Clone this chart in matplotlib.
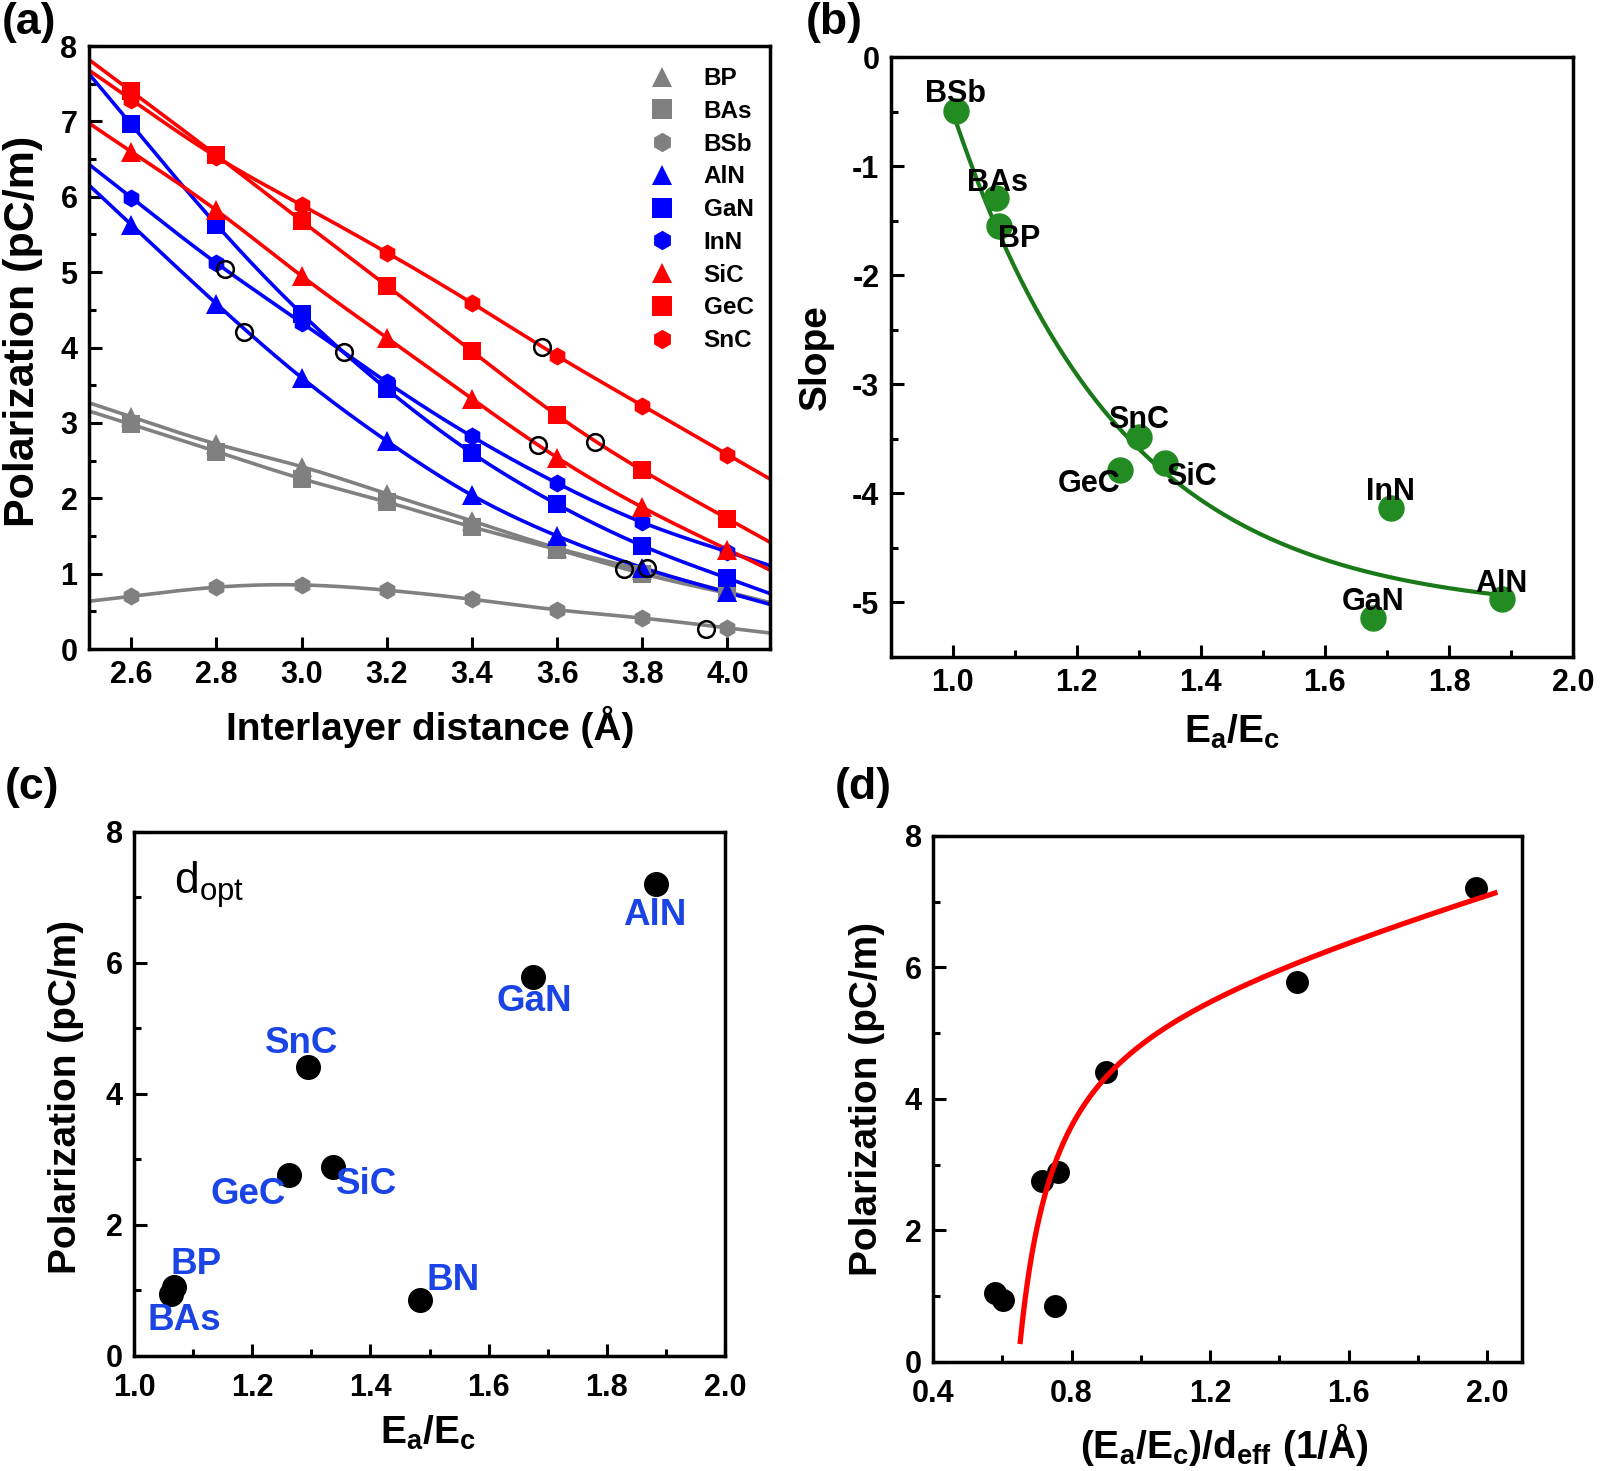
import numpy as np
import matplotlib
matplotlib.use('Agg')
import matplotlib.pyplot as plt
from matplotlib.lines import Line2D
from matplotlib.ticker import MultipleLocator

plt.rcParams['font.family'] = ['Liberation Sans', 'DejaVu Sans']
plt.rcParams['font.weight'] = 'bold'
plt.rcParams['axes.unicode_minus'] = False
plt.rcParams['mathtext.fontset'] = 'custom'
plt.rcParams['mathtext.rm'] = 'Liberation Sans:weight=normal'
plt.rcParams['mathtext.bf'] = 'Liberation Sans:weight=bold'
plt.rcParams['mathtext.it'] = 'Liberation Sans:italic'

# ---------------- data: panel (a) ----------------
d_interlayer = [2.6, 2.8, 3.0, 3.2, 3.4, 3.6, 3.8, 4.0]
P_BP = [3.08, 2.72, 2.42, 2.06, 1.70, 1.34, 1.05, 0.76]
P_BAs = [2.98, 2.62, 2.26, 1.95, 1.62, 1.32, 1.00, 0.74]
P_BSb = [0.70, 0.82, 0.85, 0.78, 0.66, 0.52, 0.41, 0.28]
P_AlN = [5.63, 4.58, 3.60, 2.76, 2.04, 1.50, 1.08, 0.75]
P_GaN = [6.96, 5.63, 4.45, 3.45, 2.60, 1.92, 1.37, 0.94]
P_InN = [5.99, 5.12, 4.33, 3.54, 2.82, 2.20, 1.68, 1.29]
P_SiC = [6.60, 5.82, 4.95, 4.13, 3.32, 2.54, 1.88, 1.32]
P_GeC = [7.40, 6.55, 5.68, 4.82, 3.95, 3.10, 2.37, 1.73]
P_SnC = [7.29, 6.53, 5.89, 5.26, 4.59, 3.89, 3.23, 2.58]
open_x = [2.82, 2.865, 3.10, 3.565, 3.555, 3.69, 3.757, 3.81, 3.95]
open_y = [5.04, 4.21, 3.94, 4.01, 2.71, 2.75, 1.06, 1.08, 0.26]

# ---------------- data: panel (b) ----------------
mat_b = ['BSb', 'BAs', 'BP', 'SnC', 'GeC', 'SiC', 'InN', 'GaN', 'AlN']
ratio_b = [1.005, 1.070, 1.074, 1.300, 1.269, 1.342, 1.706, 1.678, 1.885]
slope_b = [-0.49, -1.29, -1.55, -3.48, -3.79, -3.72, -4.13, -5.14, -4.97]
# exponential fit: y = y0 + A*exp(-(x-1)/t)
fit_b_y0, fit_b_A, fit_b_t = -5.107, 4.607, 0.27
fit_b_range = (1.0, 1.89)

# ---------------- data: panel (c)/(d) ----------------
mat_c = ['AlN', 'GaN', 'SnC', 'SiC', 'GeC', 'BP', 'BAs', 'BN']
ratio_c = [1.884, 1.675, 1.295, 1.337, 1.263, 1.068, 1.062, 1.484]
pol_opt = [7.21, 5.78, 4.41, 2.89, 2.76, 1.05, 0.94, 0.85]
ratio_over_d = [1.968, 1.451, 0.900, 0.760, 0.715, 0.578, 0.601, 0.751]
# fit: y = a + b*x - c/(x - x0)
fit_d_a, fit_d_b, fit_d_c, fit_d_x0 = 4.522, 1.468, 0.527, 0.55
fit_d_range = (0.652, 2.022)

# ---------------- styling ----------------
GRAY, BLUE, RED = '#808080', '#0000ff', '#ff0000'
LBLUE = '#1a44e6'
GREEN_PT, GREEN_LN = '#228b22', '#1a7a1a'
TICK_FS = 22
LABEL_FS = 28


def natural_spline(x, y, xs):
    x = np.asarray(x, float)
    y = np.asarray(y, float)
    n = len(x)
    h = np.diff(x)
    A = np.zeros((n, n))
    r = np.zeros(n)
    A[0, 0] = 1
    A[-1, -1] = 1
    for i in range(1, n - 1):
        A[i, i - 1] = h[i - 1]
        A[i, i] = 2 * (h[i - 1] + h[i])
        A[i, i + 1] = h[i]
        r[i] = 3 * ((y[i + 1] - y[i]) / h[i] - (y[i] - y[i - 1]) / h[i - 1])
    c = np.linalg.solve(A, r)
    b = (y[1:] - y[:-1]) / h - h * (2 * c[:-1] + c[1:]) / 3
    dd = (c[1:] - c[:-1]) / (3 * h)
    idx = np.clip(np.searchsorted(x, xs) - 1, 0, n - 2)
    dx = xs - x[idx]
    return y[idx] + b[idx] * dx + c[idx] * dx ** 2 + dd[idx] * dx ** 3


def style_axes(ax, xpad=8):
    for s in ax.spines.values():
        s.set_linewidth(2.5)
    ax.tick_params(which='major', direction='in', length=9, width=2.2,
                   labelsize=TICK_FS, pad=8, top=False, right=False)
    ax.tick_params(which='minor', direction='in', length=5, width=2.2,
                   top=False, right=False)
    ax.tick_params(axis='x', which='major', pad=xpad)
    for lab in ax.get_xticklabels() + ax.get_yticklabels():
        lab.set_fontweight('bold')


fig = plt.figure(figsize=(16, 14.71), dpi=100)

# ---------------- panel (a) ----------------
axa = fig.add_axes([0.0554, 0.5588, 0.4259, 0.4099])
series = [
    ('BP', P_BP, GRAY, '^', 14),
    ('BAs', P_BAs, GRAY, 's', 13),
    ('BSb', P_BSb, GRAY, 'h', 13),
    ('AlN', P_AlN, BLUE, '^', 14),
    ('GaN', P_GaN, BLUE, 's', 13),
    ('InN', P_InN, BLUE, 'h', 13),
    ('SiC', P_SiC, RED, '^', 14),
    ('GeC', P_GeC, RED, 's', 13),
    ('SnC', P_SnC, RED, 'h', 13),
]
xs = np.linspace(2.5, 4.1, 300)
handles = []
for name, vals, col, mk, ms in series:
    axa.plot(xs, natural_spline(d_interlayer, vals, xs), color=col, lw=2.6, zorder=2)
    axa.plot(d_interlayer, vals, linestyle='none', marker=mk, ms=ms, color=col,
             markeredgewidth=0, zorder=3)
    handles.append(Line2D([], [], linestyle='none', marker=mk, ms=ms + 1, color=col,
                          markeredgewidth=0, label=name))
axa.plot(open_x, open_y, linestyle='none', marker='o', ms=12, mfc='none',
         mec='black', mew=1.8, zorder=4)
axa.set_xlim(2.5, 4.1)
axa.set_ylim(0, 8)
axa.xaxis.set_major_locator(MultipleLocator(0.2))
axa.yaxis.set_major_locator(MultipleLocator(1))
axa.yaxis.set_minor_locator(MultipleLocator(0.5))
axa.set_xlabel('Interlayer distance (Å)', fontsize=LABEL_FS, fontweight='bold', va='center')
axa.set_ylabel('Polarization (pC/m)', fontsize=31, fontweight='bold', va='center')
axa.xaxis.set_label_coords(0.501, -0.129)
axa.yaxis.set_label_coords(-0.097, 0.526)
leg = axa.legend(handles=handles, loc='upper left', bbox_to_anchor=(0.806, 0.985),
                 frameon=False, borderpad=0, handlelength=1.0, handletextpad=1.2,
                 labelspacing=0.40, prop={'size': 17.5, 'weight': 'bold'})
style_axes(axa)

# ---------------- panel (b) ----------------
axb = fig.add_axes([0.5566, 0.5534, 0.4266, 0.4077])
xb = np.linspace(*fit_b_range, 300)
axb.plot(xb, fit_b_y0 + fit_b_A * np.exp(-(xb - 1.0) / fit_b_t), color=GREEN_LN, lw=3, zorder=2)
axb.plot(ratio_b, slope_b, linestyle='none', marker='o', ms=18, color=GREEN_PT, zorder=3)
offs_b = {'BSb': (0, 12), 'BAs': (1, 11), 'BP': (15, -9), 'SnC': (0, 12),
          'GeC': (-22, -10), 'SiC': (19, -10), 'InN': (0, 11), 'GaN': (0, 11),
          'AlN': (0, 11)}
for m, x, y in zip(mat_b, ratio_b, slope_b):
    axb.annotate(m, (x, y), xytext=offs_b[m], textcoords='offset points',
                 ha='center', va='center', fontsize=22, fontweight='bold', zorder=4)
axb.set_xlim(0.9, 2.0)
axb.set_ylim(-5.5, 0)
axb.xaxis.set_major_locator(MultipleLocator(0.2))
axb.xaxis.set_minor_locator(MultipleLocator(0.1))
axb.yaxis.set_major_locator(MultipleLocator(1))
axb.yaxis.set_minor_locator(MultipleLocator(0.5))
axb.set_xlabel(r'$\mathbf{E_a/E_c}$', fontsize=LABEL_FS, va='center')
axb.set_ylabel('Slope', fontsize=LABEL_FS, fontweight='bold', va='center')
axb.xaxis.set_label_coords(0.5, -0.125)
axb.yaxis.set_label_coords(-0.109, 0.5)
style_axes(axb)

# ---------------- panel (c) ----------------
axc = fig.add_axes([0.08375, 0.0782, 0.3694, 0.3562])
axc.plot(ratio_c, pol_opt, linestyle='none', marker='o', ms=17, color='black', zorder=3)
offs_c = {'AlN': (-1, -23), 'GaN': (1, -17), 'SnC': (-5, 17), 'SiC': (24, -13),
          'GeC': (-30, -14), 'BP': (16, 16), 'BAs': (10, -19), 'BN': (24, 14)}
for m, x, y in zip(mat_c, ratio_c, pol_opt):
    axc.annotate(m, (x, y), xytext=offs_c[m], textcoords='offset points',
                 ha='center', va='center', fontsize=26.5, fontweight='bold',
                 color=LBLUE, zorder=4)
axc.text(1.068, 7.2, r'$\mathrm{d_{opt}}$', fontsize=32, fontweight='normal',
         ha='left', va='center')
axc.set_xlim(1.0, 2.0)
axc.set_ylim(0, 8)
axc.xaxis.set_major_locator(MultipleLocator(0.2))
axc.xaxis.set_minor_locator(MultipleLocator(0.1))
axc.yaxis.set_major_locator(MultipleLocator(2))
axc.yaxis.set_minor_locator(MultipleLocator(1))
axc.set_xlabel(r'$\mathbf{E_a/E_c}$', fontsize=LABEL_FS, va='center')
axc.set_ylabel('Polarization (pC/m)', fontsize=LABEL_FS, fontweight='bold', va='center')
axc.xaxis.set_label_coords(0.498, -0.147)
axc.yaxis.set_label_coords(-0.115, 0.495)
style_axes(axc, xpad=12)

# ---------------- panel (d) ----------------
axd = fig.add_axes([0.5831, 0.0741, 0.3681, 0.3576])
xd = np.linspace(*fit_d_range, 400)
axd.plot(xd, fit_d_a + fit_d_b * xd - fit_d_c / (xd - fit_d_x0), color=RED, lw=3.8, zorder=3)
axd.plot(ratio_over_d, pol_opt, linestyle='none', marker='o', ms=15.5, color='black', zorder=2)
axd.set_xlim(0.4, 2.1)
axd.set_ylim(0, 8)
axd.xaxis.set_major_locator(MultipleLocator(0.4))
axd.xaxis.set_minor_locator(MultipleLocator(0.2))
axd.yaxis.set_major_locator(MultipleLocator(2))
axd.yaxis.set_minor_locator(MultipleLocator(1))
axd.set_xlabel(r'$\mathbf{(E_a/E_c)/d_{eff}\ (1/Å)}$', fontsize=LABEL_FS, va='center')
axd.set_ylabel('Polarization (pC/m)', fontsize=LABEL_FS, fontweight='bold', va='center')
axd.xaxis.set_label_coords(0.495, -0.156)
axd.yaxis.set_label_coords(-0.112, 0.5)
style_axes(axd, xpad=12)

# ---------------- panel letters ----------------
for txt, x, y in [('(a)', 2, 2), ('(b)', 806, 2), ('(c)', 5, 767), ('(d)', 835, 767)]:
    fig.text(x / 1600, 1 - y / 1471, txt, fontsize=32, fontweight='bold',
             ha='left', va='top')

fig.savefig('out.png', dpi=100)
